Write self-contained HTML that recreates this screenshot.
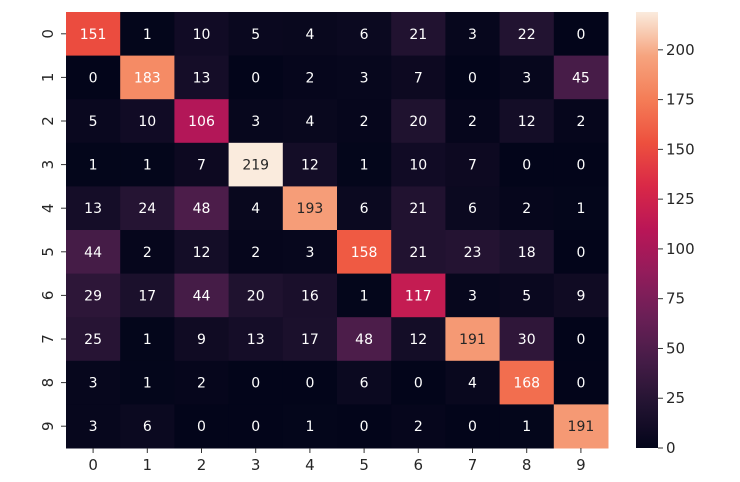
<!DOCTYPE html>
<html><head><meta charset="utf-8"><style>
body{margin:0;background:#fff;}
svg{display:block;font-family:"DejaVu Sans","Liberation Sans",sans-serif;}
</style></head><body>
<svg id="chart" width="740" height="482"></svg>
<script>
const rowLabels=["0","1","2","3","4","5","6","7","8","9"];
const colLabels=["0","1","2","3","4","5","6","7","8","9"];
const r0=[151,1,10,5,4,6,21,3,22,0];
const r1=[0,183,13,0,2,3,7,0,3,45];
const r2=[5,10,106,3,4,2,20,2,12,2];
const r3=[1,1,7,219,12,1,10,7,0,0];
const r4=[13,24,48,4,193,6,21,6,2,1];
const r5=[44,2,12,2,3,158,21,23,18,0];
const r6=[29,17,44,20,16,1,117,3,5,9];
const r7=[25,1,9,13,17,48,12,191,30,0];
const r8=[3,1,2,0,0,6,0,4,168,0];
const r9=[3,6,0,0,1,0,2,0,1,191];
const matrix=[r0,r1,r2,r3,r4,r5,r6,r7,r8,r9];
const cbTicks=[0,25,50,75,100,125,150,175,200];

const NS="http://www.w3.org/2000/svg";
const svg=document.getElementById('chart');
function mk(t,a,p){const e=document.createElementNS(NS,t);for(const k in a)e.setAttribute(k,a[k]);(p||svg).appendChild(e);return e;}
const X0=66,X1=608,Y0=12,Y1=448;
const cw=(X1-X0)/colLabels.length, ch=(Y1-Y0)/rowLabels.length;
let vmax=0;matrix.forEach(r=>r.forEach(v=>{if(v>vmax)vmax=v;}));
const vmin=0;
const stops=["#03051a","#221331","#451c47","#6a1f56","#921c5b","#b91657","#d92847","#ed503e","#f47d57","#f6a47f","#faebdd"];
function hex(h){return [1,3,5].map(i=>parseInt(h.substr(i,2),16));}
function cmap(t){t=Math.max(0,Math.min(1,t));const s=t*10,i=Math.min(9,Math.floor(s)),f=s-i;const a=hex(stops[i]),b=hex(stops[i+1]);return a.map((c,k)=>Math.round(c+(b[k]-c)*f));}
function lum(c){const l=c.map(v=>{v/=255;return v<=0.03928?v/12.92:Math.pow((v+0.055)/1.055,2.4);});return 0.2126*l[0]+0.7152*l[1]+0.0722*l[2];}
const xS=j=>X0+j*cw, yS=i=>Y0+i*ch;
const g=mk('g',{});


matrix.forEach((row,i)=>row.forEach((v,j)=>{
  const c=cmap((v-vmin)/(vmax-vmin));
  const r=mk('rect',{x:xS(j),y:yS(i),width:cw+0.5,height:ch+0.5,fill:`rgb(${c})`},g);
  
  
  const t=mk('text',{x:xS(j)+cw/2,y:yS(i)+ch/2+5,'text-anchor':'middle','font-size':14,fill:lum(c)>0.408?'#262626':'#ffffff'},g);
  t.textContent=v;
  
  
}));
rowLabels.forEach((l,i)=>{
  const y=yS(i)+ch/2;
  const tk=mk('line',{x1:X0-5,x2:X0,y1:y,y2:y,stroke:'#333','stroke-width':1});
  
  
  const t=mk('text',{x:0,y:0,'text-anchor':'middle','font-size':15,fill:'#262626',transform:`translate(${X0-13},${y}) rotate(-90)`});
  t.textContent=l;
  
  
});
colLabels.forEach((l,j)=>{
  const x=xS(j)+cw/2;
  const tk=mk('line',{x1:x,x2:x,y1:Y1,y2:Y1+5,stroke:'#333','stroke-width':1});
  
  
  const t=mk('text',{x:x,y:Y1+22,'text-anchor':'middle','font-size':15,fill:'#262626'});
  t.textContent=l;
  
  
});
// colorbar
const CX=636,CW=22;
const defs=mk('defs',{});
const grad=mk('linearGradient',{id:'cb',x1:0,y1:1,x2:0,y2:0},defs);
for(let k=0;k<=20;k++){const c=cmap(k/20);mk('stop',{offset:k/20,'stop-color':`rgb(${c})`},grad);}
const cb=mk('rect',{x:CX,y:Y0,width:CW,height:Y1-Y0,fill:'url(#cb)'});


const cy=v=>Y1-(v-vmin)/(vmax-vmin)*(Y1-Y0);
cbTicks.forEach(v=>{
  const y=cy(v);
  const tk=mk('line',{x1:CX+CW,x2:CX+CW+5,y1:y,y2:y,stroke:'#333','stroke-width':1});
  
  
  const t=mk('text',{x:CX+CW+8,y:y+5,'font-size':15,fill:'#262626'});
  t.textContent=v;
  
  
});
</script>
</body></html>
